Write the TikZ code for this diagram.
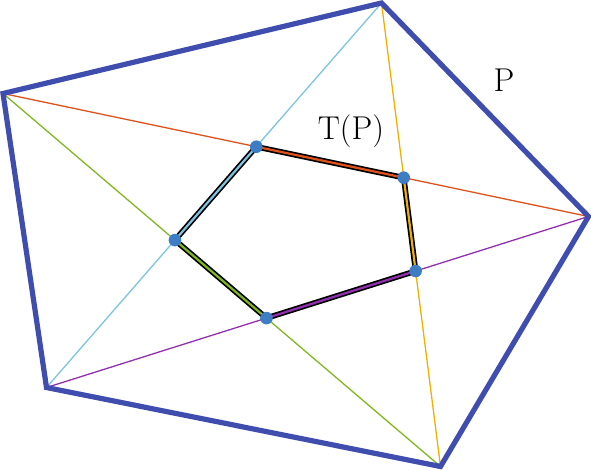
\documentclass[tikz,border=0pt]{standalone}
\begin{document}
\begin{tikzpicture}[x=1pt,y=-1pt,
  diag/.style={line width=1.3pt},
  outerpoly/.style={draw=polyblue,line width=5.2pt,line join=miter},
  innerblack/.style={black,line width=5.6pt,line cap=round},
  innercore/.style={line width=2.2pt},
  dotmark/.style={fill=dotblue,draw=none},
  lab/.style={font=\fontsize{33}{36}\selectfont,inner sep=0pt,anchor=base}]
\definecolor{polyblue}{RGB}{63,77,174}
\definecolor{dotblue}{RGB}{60,125,196}
\definecolor{corange}{RGB}{224,82,26}
\definecolor{cgold}{RGB}{240,176,0}
\definecolor{clblue}{RGB}{126,196,226}
\definecolor{cgreen}{RGB}{128,184,32}
\definecolor{cpurple}{RGB}{146,48,176}
\useasboundingbox (0,0) rectangle (591,470);
\coordinate (A) at (381.5,3);
\coordinate (B) at (588.5,216.5);
\coordinate (C) at (440.5,466.5);
\coordinate (D) at (46.5,387.5);
\coordinate (E) at (3,93.5);
\coordinate (P1) at (intersection cs:first line={(E)--(B)},second line={(A)--(D)});
\coordinate (P2) at (intersection cs:first line={(E)--(B)},second line={(A)--(C)});
\coordinate (P3) at (intersection cs:first line={(A)--(C)},second line={(D)--(B)});
\coordinate (P4) at (intersection cs:first line={(D)--(B)},second line={(E)--(C)});
\coordinate (P5) at (intersection cs:first line={(E)--(C)},second line={(A)--(D)});
% diagonals
\draw[diag,corange] (E) -- (B);
\draw[diag,cgold] (A) -- (C);
\draw[diag,clblue] (A) -- (D);
\draw[diag,cgreen] (E) -- (C);
\draw[diag,cpurple] (D) -- (B);
% inner pentagon
\draw[innerblack] (P1) -- (P2);
\draw[innerblack] (P2) -- (P3);
\draw[innerblack] (P3) -- (P4);
\draw[innerblack] (P4) -- (P5);
\draw[innerblack] (P5) -- (P1);
\draw[innercore,corange] (P1) -- (P2);
\draw[innercore,cgold] (P2) -- (P3);
\draw[innercore,cpurple] (P3) -- (P4);
\draw[innercore,cgreen] (P4) -- (P5);
\draw[innercore,clblue] (P5) -- (P1);
\foreach \p in {P1,P2,P3,P4,P5} \fill[dotmark] (\p) circle (6.3);
% outer pentagon
\draw[outerpoly] (A) -- (B) -- (C) -- (D) -- (E) -- cycle;
% labels
\node[lab] (lP) at (504,91.5) {P};
\node[lab] (lTP) at (351,140) {T(P)};
\end{tikzpicture}
\end{document}
